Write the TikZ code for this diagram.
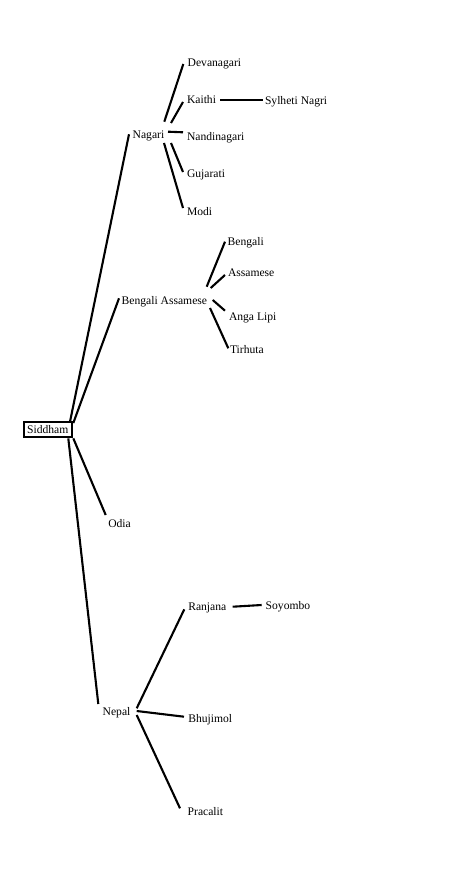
\documentclass[tikz,border=0pt]{standalone}
\usepackage{fontspec}
\setmainfont{Liberation Serif}
\begin{document}
\begin{tikzpicture}[x=1pt,y=-1pt,
  lbl/.style={anchor=base west,inner sep=0pt,outer sep=0pt,font=\fontsize{11.6}{13}\selectfont},
  conn/.style={line width=2.1pt,black}]
\useasboundingbox (0,0) rectangle (474,893);
\fill[white] (0,0) rectangle (474,893);
% root
\node[draw,line width=2pt,minimum width=48.2pt,minimum height=15.5pt,inner sep=0pt,outer sep=0pt,font=\fontsize{11.6}{13}\selectfont] (sid) at (47.7,429.7) {Siddham};
% level 1
\node[lbl] (nagari) at (132.7,139) {Nagari};
\node[lbl] (ba) at (121.7,304) {Bengali Assamese};
\node[lbl] (odia) at (108.3,527.3) {Odia};
\node[lbl] (nepal) at (102.7,715.7) {Nepal};
% Nagari children
\node[lbl] (dev) at (187.7,66.7) {Devanagari};
\node[lbl] (kaithi) at (187,104) {Kaithi};
\node[lbl] (syl) at (265,105) {Sylheti Nagri};
\node[lbl] (nandi) at (187,141) {Nandinagari};
\node[lbl] (guj) at (187,178) {Gujarati};
\node[lbl] (modi) at (187,216) {Modi};
% Bengali Assamese children
\node[lbl] (beng) at (227.7,245.7) {Bengali};
\node[lbl] (assam) at (228,276) {Assamese};
\node[lbl] (anga) at (229,320) {Anga Lipi};
\node[lbl] (tir) at (230,353) {Tirhuta};
% Nepal children
\node[lbl] (ranj) at (188.3,610) {Ranjana};
\node[lbl] (soy) at (265.7,609) {Soyombo};
\node[lbl] (bhuj) at (188.3,722.3) {Bhujimol};
\node[lbl] (prac) at (187.7,815) {Pracalit};
% connectors from Siddham
\draw[conn] ([shift={(-1.8,-0.2)}]sid.north east) -- ([shift={(-3.7,-4.7)}]nagari.base west);
\draw[conn] ([shift={(1.5,1.1)}]sid.north east) -- ([shift={(-2.7,-5.7)}]ba.base west);
\draw[conn] ([shift={(1.5,0.9)}]sid.south east) -- ([shift={(-2.6,-12.3)}]odia.base west);
\draw[conn] ([shift={(-3.5,0.9)}]sid.south east) -- ([shift={(-4.4,-11.7)}]nepal.base west);
% Nagari
\draw[conn] ([shift={(31.6,-17.3)}]nagari.base west) -- ([shift={(-4.4,-2.7)}]dev.base west);
\draw[conn] ([shift={(38.3,-16)}]nagari.base west) -- ([shift={(-4,-2)}]kaithi.base west);
\draw[conn] ([shift={(35.3,-7.3)}]nagari.base west) -- ([shift={(-4,-8.7)}]nandi.base west);
\draw[conn] ([shift={(38.3,4)}]nagari.base west) -- ([shift={(-4,-6)}]guj.base west);
\draw[conn] ([shift={(31.3,4)}]nagari.base west) -- ([shift={(-4,-8)}]modi.base west);
\draw[conn] ([shift={(33,-4)}]kaithi.base west) -- ([shift={(-2,-5)}]syl.base west);
% Bengali Assamese
\draw[conn] ([shift={(85,-17.3)}]ba.base west) -- ([shift={(-2.7,-4)}]beng.base west);
\draw[conn] ([shift={(89,-16)}]ba.base west) -- ([shift={(-3,-1)}]assam.base west);
\draw[conn] ([shift={(91,-4)}]ba.base west) -- ([shift={(-4,-9.3)}]anga.base west);
\draw[conn] ([shift={(88.3,4)}]ba.base west) -- ([shift={(-1.7,-4.7)}]tir.base west);
% Nepal
\draw[conn] ([shift={(34,-7.4)}]nepal.base west) -- ([shift={(-4,-0.7)}]ranj.base west);
\draw[conn] ([shift={(34,-4.7)}]nepal.base west) -- ([shift={(-4.3,-5.6)}]bhuj.base west);
\draw[conn] ([shift={(34,-0.7)}]nepal.base west) -- ([shift={(-7.7,-6.7)}]prac.base west);
\draw[conn] ([shift={(44.4,-3.3)}]ranj.base west) -- ([shift={(-4,-4)}]soy.base west);
\end{tikzpicture}
\end{document}
